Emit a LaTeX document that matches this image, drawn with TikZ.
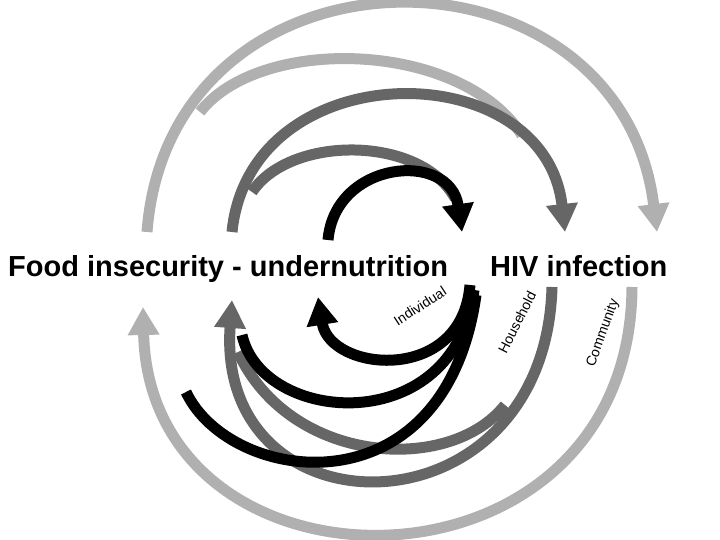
\documentclass[tikz,border=0pt]{standalone}
\usepackage{fontspec}
\setmainfont{Liberation Sans}
\usetikzlibrary{arrows.meta}
\definecolor{lg}{HTML}{B0B0B0}
\definecolor{dg}{HTML}{666666}
\begin{document}
\begin{tikzpicture}[x=1pt,y=-1pt,
  arc/.style={line width=11pt},
  tip/.style={-{Triangle[length=28pt,width=30pt]}},
  lbl/.style={font=\bfseries\fontsize{29}{32}\selectfont, inner sep=0pt},
  sm/.style={font=\fontsize{14}{16}\selectfont, inner sep=0pt}]
\useasboundingbox (0,0) rectangle (720,540);
\fill[white] (0,0) rectangle (720,540);
\node[lbl, anchor=base west] (food) at (8,276) {Food insecurity - undernutrition};
\node[lbl, anchor=base west] (hiv) at (490,276) {HIV infection};
% coordinates
\coordinate (t1s) at (147,232); \coordinate (t1e) at (657,232);
\coordinate (t2s) at (232,232); \coordinate (t2e) at (565,232);
\coordinate (t3s) at (328,240); \coordinate (t3e) at (462,232);
\coordinate (b1s) at (632,287); \coordinate (b1e) at (143,307);
\coordinate (b2s) at (552,287); \coordinate (b2e) at (232,300);
\coordinate (b3s) at (470,285); \coordinate (b3e) at (318,297);
% light gray
\draw[arc,lg,tip] (t1s) .. controls (170,-70) and (620,-70) .. (t1e);
\draw[arc,lg] (200,112) .. controls (260,35) and (460,40) .. (522,135);
\draw[arc,lg,tip] (b1s) .. controls (630,610) and (150,610) .. (b1e);
% dark gray
\draw[arc,dg,tip] (t2s) .. controls (250,52) and (545,52) .. (t2e);
\draw[arc,dg] (252,192) .. controls (290,135) and (420,135) .. (455,198);
\draw[arc,dg,tip] (b2s) .. controls (545,540) and (215,540) .. (b2e);
\draw[arc,dg] (505,405) .. controls (450,475) and (290,465) .. (238,352);
% black
\draw[arc,black,tip] (t3s) .. controls (335,160) and (450,150) .. (t3e);
\draw[arc,black] (474,290) .. controls (455,440) and (262,425) .. (242,335);
\draw[arc,black] (476,295) .. controls (445,515) and (230,485) .. (186,392);
\draw[arc,black,tip] (b3s) .. controls (462,385) and (330,372) .. (b3e);
% labels
\node[sm, rotate=33] (ind) at (420,306) {Individual};
\node[sm, rotate=63] (hh) at (517,322) {Household};
\node[sm, rotate=70] (com) at (603,333) {Community};
\end{tikzpicture}
\end{document}
